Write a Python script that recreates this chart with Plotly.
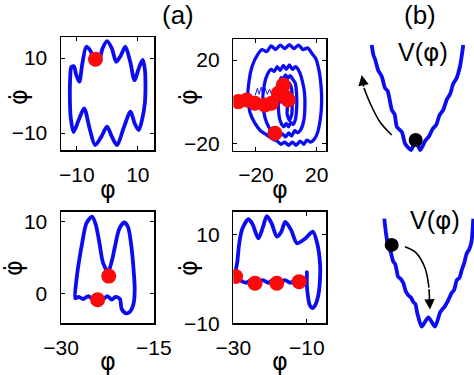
import plotly.graph_objects as go

# ---------------- data ----------------
# (a) top-left phase portrait
p1_phi = [-12.3, -12.2, -11.8, -11.0, -10.2, -9.2, -8.2, -6.9, -5.6, -4.1, -2.9, -1.6, -0.1, 1.5, 2.9, 4.3, 5.9, 7.5, 8.9, 10.4,
          11.6, 12.3, 12.5, 12.3, 11.5, 10.3, 9.0, 7.6, 5.4, 3.2, 1.5, -0.1, -2.0, -4.0, -5.9, -7.6, -9.4, -11.1, -12.0, -12.3]
p1_dphi = [0.0, 4.5, 7.6, 7.8, 5.5, 3.7, 8.5, 13.0, 12.0, 9.3, 9.0, 12.5, 14.5, 12.5, 9.0, 10.5, 13.0, 9.0, 4.1, 7.5,
           9.5, 7.0, 2.0, -2.0, -6.0, -9.2, -7.5, -4.3, -8.5, -13.2, -11.0, -8.3, -11.0, -13.2, -8.5, -3.4, -6.5, -9.7, -6.0, 0.0]
p1_dot_phi = [-3.9]
p1_dot_dphi = [9.7]

# (a) top-right phase portrait (spiral)
p2_phi = [0.5, 0.6, 2.0, 3.5, 3.6, 2.0, 0.5, 0.5,
          -5.3, -4.8, -3.5, -2.0, -0.5, 1.0, 2.5, 4.0, 5.8, 6.8, 6.8, 6.0, 4.5, 3.0, 1.5, 0.0, -1.5, -3.0, -4.5, -5.3, -5.3,
          -15.0, -14.5, -12.5, -10.0, -8.0, -6.0, -4.0, -2.0, 0.0, 2.0, 4.0, 6.0, 8.5, 10.5, 12.0, 12.2, 11.5, 9.5, 7.5, 5.5,
          3.5, 1.5, -0.5, -2.5, -4.5, -7.0, -10.0, -13.0, -14.8, -15.0,
          -25.0, -24.5, -22.5, -19.0, -16.0, -13.0, -10.0, -7.0, -4.0, -1.0, 2.0, 5.0, 8.0, 11.0, 14.0, 17.0, 19.5, 21.5, 22.5,
          23.2, 23.0, 22.0, 20.5, 18.5, 16.0, 13.5, 11.5, 9.0, 6.5, 4.0, 1.5, -1.0, -3.5, -6.0, -9.0, -13.0, -17.0, -21.0, -24.0, -25.0]
p2_dphi = [0.0, 6.0, 9.0, 6.0, -6.0, -9.0, -6.0, 0.0,
           0.0, 7.0, 11.5, 11.0, 12.8, 11.2, 12.5, 11.0, 9.0, 3.0, -3.0, -8.5, -11.0, -10.0, -12.1, -10.5, -12.0, -11.0, -8.0, -2.0, 0.0,
           0.0, 8.0, 13.0, 15.5, 14.5, 16.8, 15.0, 17.4, 15.5, 17.6, 15.5, 16.8, 14.5, 10.0, 4.0, -3.0, -9.0, -13.5, -15.0, -14.0,
           -16.5, -15.0, -17.0, -15.5, -16.5, -15.5, -14.0, -10.0, -5.0, 0.0,
           0.0, 10.0, 17.0, 22.5, 25.0, 24.0, 26.8, 25.0, 27.2, 25.5, 27.4, 25.5, 27.2, 25.0, 25.8, 23.0, 20.5, 15.0, 10.0,
           3.0, -4.0, -10.0, -15.0, -18.0, -19.5, -18.5, -20.5, -19.0, -21.0, -19.5, -21.0, -19.5, -20.5, -19.0, -18.0, -16.0, -14.0, -10.0, -5.0, 0.0]
p2_noise_phi = [-20.5, -19.0, -18.0, -16.5, -15.5, -14.0, -12.5, -11.0, -9.5]
p2_noise_dphi = [3.0, 6.5, 3.5, 7.0, 3.0, 6.5, 3.5, 6.0, 3.0]
p2_dot_phi = [-31.6, -26.1, -20.7, -14.1, -9.7, -5.3, -2.0, -0.9, 1.3, -7.5]
p2_dot_dphi = [0.0, 0.8, -0.8, -1.6, -0.8, 4.0, 8.0, 2.4, 0.8, -15.2]

# (a) bottom-left phase portrait
p3_phi = [-27.7, -27.5, -27.1, -26.6, -25.9, -25.0, -24.4, -23.8, -23.2, -22.4, -21.8, -21.3, -20.6, -19.8, -19.2,
          -18.7, -18.3, -18.1, -18.3, -18.9, -19.5, -20.2, -20.5, -21.2, -21.8, -22.5, -23.2, -24.0, -24.8, -25.6,
          -26.4, -27.2, -27.7]
p3_dphi = [-0.7, 2.0, 4.5, 7.0, 9.8, 10.7, 9.6, 7.0, 4.2, 3.0, 4.5, 6.5, 9.0, 9.9, 9.3,
           7.0, 3.5, 0.5, -1.5, -2.6, -2.8, -2.2, -0.8, -0.5, -0.9, -0.4, -0.8, -0.5, -0.9, -0.4,
           -0.8, -0.5, -0.7]
p3_dot_phi = [-22.3, -24.1]
p3_dot_dphi = [2.4, -0.9]

# (a) bottom-right phase portrait
p4_phi = [-29.4, -28.9, -28.4, -27.6, -25.9, -24.8, -23.2, -22.0, -20.9, -19.6, -18.2, -17.0, -15.9, -14.3, -12.7,
          -10.5, -8.4, -7.2, -6.4, -6.5, -6.8, -7.5, -8.4, -9.2, -9.7, -10.0, -10.0, -10.2, -11.5, -13.0,
          -14.5, -16.0, -17.5, -19.0, -20.5, -22.0, -23.5, -25.0, -26.5, -28.0, -29.4]
p4_dphi = [0.5, 4.0, 8.0, 11.2, 13.4, 12.3, 9.1, 11.5, 14.1, 12.5, 9.5, 10.5, 12.8, 11.0, 8.0,
           9.0, 10.6, 8.0, 3.0, -1.0, -3.3, -5.5, -6.6, -6.0, -4.0, -1.5, 1.5, -0.3, -0.8, -0.2,
           -0.9, -0.3, -0.8, -0.2, -0.9, -0.3, -0.8, -0.2, -0.9, -0.4, 0.5]
p4_dot_phi = [-29.4, -24.1, -18.2, -12.1]
p4_dot_dphi = [0.5, -1.0, -1.0, -0.65]

# (b) potentials
vtop_phi = [-10.0, -9.6, -9.3, -8.6, -7.8, -7.1, -6.5, -5.6, -5.0, -4.5, -3.4, -2.7, -1.4, -0.4, 0.6,
            1.7, 2.5, 3.3, 4.1, 4.8, 5.6, 6.4, 7.1, 7.8, 8.5, 9.3, 10.0]
vtop_V = [10.0, 9.0, 8.7, 7.6, 7.0, 5.9, 5.6, 3.8, 3.4, 2.2, 1.7, 0.6, 0.0, 0.9, 0.0,
          0.9, 1.3, 2.0, 2.4, 3.3, 3.8, 4.8, 5.3, 6.3, 6.8, 8.0, 10.0]
vtop_ball = ([-0.4], [0.95])
vtop_arrow_phi = [-5.63, -8.19, -10.37, -11.68, -12.18]
vtop_arrow_V = [1.43, 2.67, 4.48, 5.9, 7.14]

vbot_phi = [-10.0, -9.6, -9.1, -8.6, -8.0, -7.5, -6.9, -6.3, -5.7, -5.2, -4.6, -4.0, -3.5, -3.0, -2.6, -1.6,
            -0.1, 1.4, 2.5, 3.0, 3.6, 4.3, 5.1, 5.7, 6.3, 6.9, 7.4, 8.0, 8.5, 9.1, 9.6, 10.0]
vbot_V = [10.0, 8.6, 7.4, 7.0, 6.1, 5.8, 4.7, 4.5, 4.1, 3.4, 3.0, 2.8, 2.4, 2.2, 1.4, 0.15,
          1.0, 0.15, 1.4, 1.7, 2.0, 2.5, 3.2, 3.5, 4.4, 4.6, 5.3, 6.0, 6.8, 7.2, 7.9, 10.0]
vbot_ball = ([-8.34], [7.6])
vbot_arrow_phi = [-5.35, -2.9, -0.85, 0.04, 0.27]
vbot_arrow_V = [7.44, 6.9, 5.5, 3.7, 1.7]

# tick values
p1_xticks, p1_yticks = [-10, 10], [-10, 10]
p2_xticks, p2_yticks = [-20, 20], [-20, 20]
p3_xticks, p3_yticks = [-30, -15], [0, 10]
p4_xticks, p4_yticks = [-30, -10], [-10, 10]

# ---------------- styling ----------------
W, H = 474, 375
BLUE = "#0c0cf2"
RED = "#fa0a0a"
FONT = "Liberation Sans"
GFONT = "DejaVu Sans"
TICKF = dict(family=FONT, size=21, color="black")

fig = go.Figure()


def traj(x, y, n, width=3.8, smooth=0.8):
    fig.add_trace(go.Scatter(x=x, y=y, mode="lines", xaxis="x" + n, yaxis="y" + n,
                             line=dict(color=BLUE, width=width, shape="spline", smoothing=smooth),
                             hoverinfo="skip", showlegend=False))


def dots(x, y, n, size=15, color=RED):
    fig.add_trace(go.Scatter(x=x, y=y, mode="markers", xaxis="x" + n, yaxis="y" + n,
                             marker=dict(color=color, size=size, line=dict(width=0)),
                             hoverinfo="skip", showlegend=False))


traj(p1_phi, p1_dphi, "")
dots(p1_dot_phi, p1_dot_dphi, "")
traj(p2_phi, p2_dphi, "2", width=3.3, smooth=0.6)
traj(p2_noise_phi, p2_noise_dphi, "2", width=1, smooth=0)
dots(p2_dot_phi, p2_dot_dphi, "2")
traj(p3_phi, p3_dphi, "3")
dots(p3_dot_phi, p3_dot_dphi, "3")
traj(p4_phi, p4_dphi, "4")
dots(p4_dot_phi, p4_dot_dphi, "4")

# potentials
traj(vtop_phi, vtop_V, "5", width=3.8, smooth=0.6)
traj(vbot_phi, vbot_V, "6", width=3.8, smooth=0.6)
for ax_, ph, vv in (("5", vtop_arrow_phi, vtop_arrow_V), ("6", vbot_arrow_phi, vbot_arrow_V)):
    fig.add_trace(go.Scatter(x=ph[:-1], y=vv[:-1], mode="lines", xaxis="x" + ax_, yaxis="y" + ax_,
                             line=dict(color="black", width=1.6, shape="spline"),
                             hoverinfo="skip", showlegend=False))
    fig.add_annotation(x=ph[-1], y=vv[-1], ax=ph[-2], ay=vv[-2], xref="x" + ax_, yref="y" + ax_,
                       axref="x" + ax_, ayref="y" + ax_, showarrow=True, arrowhead=2, arrowsize=1.3,
                       arrowwidth=1.6, arrowcolor="black", text="")
dots(*vtop_ball, "5", size=14, color="black")
dots(*vbot_ball, "6", size=14, color="black")


def fmt(v):
    return ("\u2212" + str(-v)) if v < 0 else str(v)


def frame(xdom, ydom, xr, yr, xt, yt):
    common = dict(showline=True, linecolor="black", linewidth=1.5, mirror="allticks", ticks="inside",
                  ticklen=4, tickwidth=1, tickcolor="black", showgrid=False, zeroline=False,
                  tickfont=TICKF, fixedrange=True, automargin=False)
    xa = dict(domain=xdom, range=xr, tickvals=xt, ticktext=[fmt(v) for v in xt], ticklabelstandoff=5, **common)
    ya = dict(domain=ydom, range=yr, tickvals=yt, ticktext=[fmt(v) for v in yt], ticklabelstandoff=8, **common)
    return xa, ya


dx1 = [61 / W, 154 / W]
dx2 = [233.3 / W, 326 / W]
dy1 = [1 - 150 / H, 1 - 37 / H]
dy2 = [1 - 150.7 / H, 1 - 39 / H]
dy3 = [1 - 323.3 / H, 1 - 211.7 / H]

x1, y1 = frame(dx1, dy1, [-15.2, 15.3], [-14.5, 15.6], p1_xticks, p1_yticks)
x2, y2 = frame(dx2, dy2, [-34.9, 26.1], [-23.6, 30.1], p2_xticks, p2_yticks)
x3, y3 = frame(dx1, dy3, [-30.02, -14.98], [-4.2, 11.4], p3_xticks, p3_yticks)
x4, y4 = frame(dx2, dy3, [-30.02, -4.8], [-10.03, 15.1], p4_xticks, p4_yticks)

hidden = dict(visible=False, fixedrange=True, showgrid=False, zeroline=False, automargin=False)
fig.update_layout(
    template="none",
    width=W, height=H, margin=dict(l=0, r=0, t=0, b=0, pad=0, autoexpand=False),
    paper_bgcolor="white", plot_bgcolor="white", showlegend=False,
    xaxis=dict(**x1, anchor="y"), yaxis=dict(**y1, anchor="x"),
    xaxis2=dict(**x2, anchor="y2"), yaxis2=dict(**y2, anchor="x2"),
    xaxis3=dict(**x3, anchor="y3"), yaxis3=dict(**y3, anchor="x3"),
    xaxis4=dict(**x4, anchor="y4"), yaxis4=dict(**y4, anchor="x4"),
    xaxis5=dict(domain=[345 / W, 1.0], range=[-15.83, 12.34], anchor="y5", **hidden),
    yaxis5=dict(domain=[1 - 160 / H, 1 - 25 / H], range=[-0.95, 11.9], anchor="x5", **hidden),
    xaxis6=dict(domain=[345 / W, 1.0], range=[-18.83, 10.16], anchor="y6", **hidden),
    yaxis6=dict(domain=[1 - 340 / H, 1 - 205 / H], range=[-1.07, 11.24], anchor="x6", **hidden),
)

PHI = "\u03c6"
PHIDOT = "\u03c6\u0307"


def label(text, px, py, angle=0, size=24, family=FONT):
    fig.add_annotation(x=px / W, y=1 - py / H, xref="paper", yref="paper", text=text, showarrow=False,
                       textangle=angle, font=dict(family=family, size=size, color="black"),
                       xanchor="center", yanchor="middle")


label("(a)", 178, 15, size=26)
label("(b)", 420, 15, size=26)
VTXT = "V(<span style='font-family:DejaVu Sans'>" + PHI + "</span>)"
label(VTXT, 423, 53, size=25)
label(VTXT, 435, 220, size=25)
for px in (107.5, 279.7):
    label(PHI, px, 190, family=GFONT)
    label(PHI, px, 362, family=GFONT)
label(PHIDOT, 19, 97, angle=-90, family=GFONT)
label(PHIDOT, 189, 97, angle=-90, family=GFONT)
label(PHIDOT, 14, 268, angle=-90, family=GFONT)
label(PHIDOT, 189, 268, angle=-90, family=GFONT)

fig.write_html("out.html", config={"displayModeBar": False, "staticPlot": True},
               post_script="document.body.style.margin='0';document.body.style.padding='0';")
